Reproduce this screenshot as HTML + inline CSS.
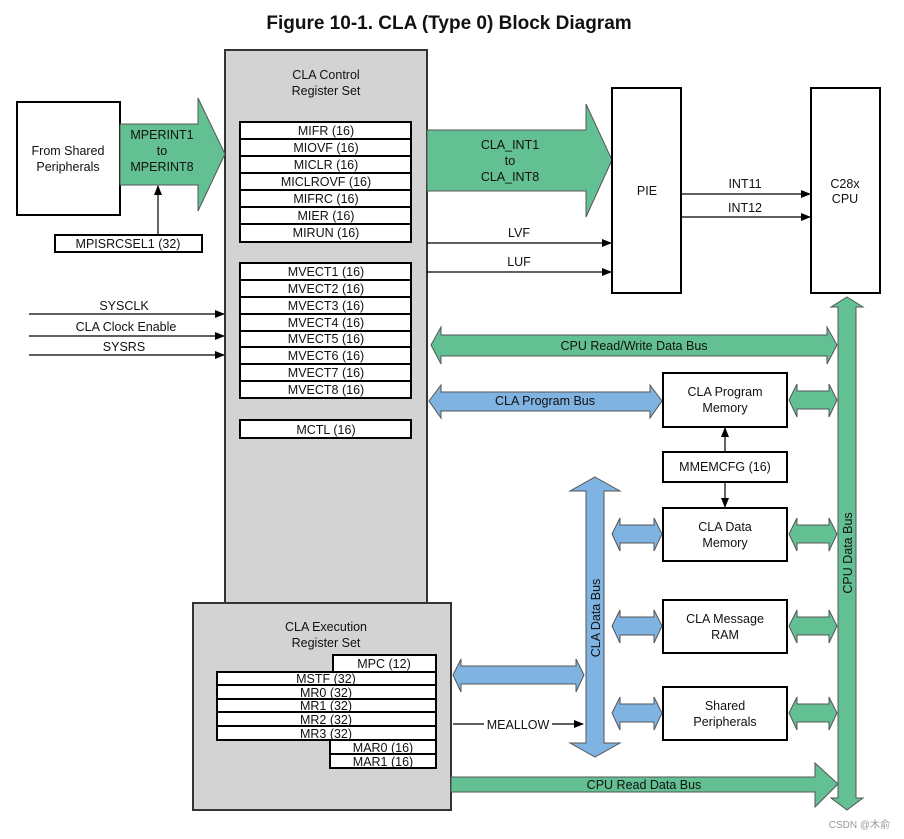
<!DOCTYPE html>
<html><head><meta charset="utf-8"><style>
body{margin:0;background:#fff}
svg{display:block;font-family:"Liberation Sans",Arial,sans-serif}
text{font-size:12.5px;fill:#111}
.r{fill:#fff;stroke:#000;stroke-width:2}
.g{fill:#63c093;stroke:#555;stroke-width:1}
.b{fill:#7fb3e1;stroke:#555;stroke-width:1}
.l{stroke:#000;stroke-width:1.2;fill:none}
</style></head><body>
<svg width="904" height="839" viewBox="0 0 904 839">
<defs><marker id="a" markerWidth="10" markerHeight="8" refX="9" refY="4" orient="auto" markerUnits="userSpaceOnUse"><path d="M0,0L10,4L0,8z" fill="#000"/></marker></defs>
<text x="449" y="29" text-anchor="middle" style="font-size:19px;font-weight:bold">Figure 10-1. CLA (Type 0) Block Diagram</text>

<rect x="225" y="50" width="202" height="560" fill="#d3d3d3" stroke="#333" stroke-width="2"/>
<text x="326" y="79" text-anchor="middle">CLA Control</text>
<text x="326" y="95" text-anchor="middle">Register Set</text>
<g class="r">
<rect x="240" y="122" width="171" height="120"/>
<rect x="240" y="263" width="171" height="135"/>
<rect x="240" y="420" width="171" height="18"/>
</g>
<g stroke="#000" stroke-width="2">
<line x1="240" y1="139" x2="411" y2="139"/><line x1="240" y1="156" x2="411" y2="156"/><line x1="240" y1="173" x2="411" y2="173"/><line x1="240" y1="190" x2="411" y2="190"/><line x1="240" y1="207" x2="411" y2="207"/><line x1="240" y1="224" x2="411" y2="224"/>
<line x1="240" y1="280" x2="411" y2="280"/><line x1="240" y1="297" x2="411" y2="297"/><line x1="240" y1="314" x2="411" y2="314"/><line x1="240" y1="331" x2="411" y2="331"/><line x1="240" y1="347" x2="411" y2="347"/><line x1="240" y1="364" x2="411" y2="364"/><line x1="240" y1="381" x2="411" y2="381"/>
</g>
<g text-anchor="middle">
<text x="326" y="135">MIFR (16)</text><text x="326" y="152">MIOVF (16)</text><text x="326" y="169">MICLR (16)</text><text x="326" y="186">MICLROVF (16)</text><text x="326" y="203">MIFRC (16)</text><text x="326" y="220">MIER (16)</text><text x="326" y="237">MIRUN (16)</text>
<text x="326" y="276">MVECT1 (16)</text><text x="326" y="293">MVECT2 (16)</text><text x="326" y="310">MVECT3 (16)</text><text x="326" y="327">MVECT4 (16)</text><text x="326" y="343">MVECT5 (16)</text><text x="326" y="360">MVECT6 (16)</text><text x="326" y="377">MVECT7 (16)</text><text x="326" y="394">MVECT8 (16)</text>
<text x="326" y="434">MCTL (16)</text>
</g>

<rect class="r" x="17" y="102" width="103" height="113"/>
<text x="68" y="155" text-anchor="middle">From Shared</text>
<text x="68" y="171" text-anchor="middle">Peripherals</text>
<polygon class="g" points="120,124 198,124 198,98 225,154 198,211 198,185 120,185"/>
<text x="162" y="139" text-anchor="middle">MPERINT1</text>
<text x="162" y="155" text-anchor="middle">to</text>
<text x="162" y="171" text-anchor="middle">MPERINT8</text>
<rect class="r" x="55" y="235" width="147" height="17"/>
<text x="128" y="248" text-anchor="middle">MPISRCSEL1 (32)</text>
<line class="l" x1="158" y1="235" x2="158" y2="186" marker-end="url(#a)"/>

<line class="l" x1="29" y1="314" x2="224" y2="314" marker-end="url(#a)"/>
<line class="l" x1="29" y1="336" x2="224" y2="336" marker-end="url(#a)"/>
<line class="l" x1="29" y1="355" x2="224" y2="355" marker-end="url(#a)"/>
<text x="124" y="310" text-anchor="middle">SYSCLK</text>
<text x="126" y="331" text-anchor="middle">CLA Clock Enable</text>
<text x="124" y="351" text-anchor="middle">SYSRS</text>

<polygon class="g" points="427,130 586,130 586,104 612,160 586,217 586,191 427,191"/>
<text x="510" y="149" text-anchor="middle">CLA_INT1</text>
<text x="510" y="165" text-anchor="middle">to</text>
<text x="510" y="181" text-anchor="middle">CLA_INT8</text>
<rect class="r" x="612" y="88" width="69" height="205"/>
<text x="647" y="195" text-anchor="middle">PIE</text>
<rect class="r" x="811" y="88" width="69" height="205"/>
<text x="845" y="188" text-anchor="middle">C28x</text>
<text x="845" y="203" text-anchor="middle">CPU</text>
<line class="l" x1="681" y1="194" x2="810" y2="194" marker-end="url(#a)"/>
<line class="l" x1="681" y1="217" x2="810" y2="217" marker-end="url(#a)"/>
<text x="745" y="188" text-anchor="middle">INT11</text>
<text x="745" y="212" text-anchor="middle">INT12</text>
<line class="l" x1="427" y1="243" x2="611" y2="243" marker-end="url(#a)"/>
<line class="l" x1="427" y1="272" x2="611" y2="272" marker-end="url(#a)"/>
<text x="519" y="237" text-anchor="middle">LVF</text>
<text x="519" y="266" text-anchor="middle">LUF</text>

<polygon class="g" points="847,297 863,307 856,307 856,798 863,798 847,810 831,798 838,798 838,307 831,307"/>
<text transform="translate(852,553) rotate(-90)" text-anchor="middle">CPU Data Bus</text>

<polygon class="g" points="431,345 441,327 441,335 827,335 827,327 837,345 827,364 827,356 441,356 441,364"/>
<text x="634" y="350" text-anchor="middle">CPU Read/Write Data Bus</text>
<polygon class="b" points="429,401 441,385 441,392 650,392 650,385 662,401 650,418 650,411 441,411 441,418"/>
<text x="545" y="405" text-anchor="middle">CLA Program Bus</text>

<g class="r">
<rect x="663" y="373" width="124" height="54"/>
<rect x="663" y="452" width="124" height="30"/>
<rect x="663" y="508" width="124" height="53"/>
<rect x="663" y="600" width="124" height="53"/>
<rect x="663" y="687" width="124" height="53"/>
</g>
<g text-anchor="middle">
<text x="725" y="396">CLA Program</text><text x="725" y="412">Memory</text>
<text x="725" y="471">MMEMCFG (16)</text>
<text x="725" y="531">CLA Data</text><text x="725" y="547">Memory</text>
<text x="725" y="623">CLA Message</text><text x="725" y="639">RAM</text>
<text x="725" y="710">Shared</text><text x="725" y="726">Peripherals</text>
</g>
<line class="l" x1="725" y1="452" x2="725" y2="428" marker-end="url(#a)"/>
<line class="l" x1="725" y1="482" x2="725" y2="507" marker-end="url(#a)"/>

<g class="g">
<polygon points="789,400 797,384 797,391 829,391 829,384 837,400 829,417 829,409 797,409 797,417"/>
<polygon points="789,534 797,518 797,525 829,525 829,518 837,534 829,551 829,543 797,543 797,551"/>
<polygon points="789,626 797,610 797,617 829,617 829,610 837,626 829,643 829,635 797,635 797,643"/>
<polygon points="789,713 797,697 797,704 829,704 829,697 837,713 829,730 829,722 797,722 797,730"/>
</g>
<polygon class="b" points="595,477 620,491 604,491 604,743 620,743 595,757 570,743 586,743 586,491 570,491"/>
<text transform="translate(600,618) rotate(-90)" text-anchor="middle">CLA Data Bus</text>
<g class="b">
<polygon points="612,534 620,518 620,525 654,525 654,518 662,534 654,551 654,543 620,543 620,551"/>
<polygon points="612,626 620,610 620,617 654,617 654,610 662,626 654,643 654,635 620,635 620,643"/>
<polygon points="612,713 620,697 620,704 654,704 654,697 662,713 654,730 654,722 620,722 620,730"/>
<polygon points="453,675 461,659 461,666 576,666 576,659 584,675 576,692 576,684 461,684 461,692"/>
</g>

<rect x="193" y="603" width="258" height="207" fill="#d3d3d3" stroke="#333" stroke-width="2"/>
<text x="326" y="631" text-anchor="middle">CLA Execution</text>
<text x="326" y="647" text-anchor="middle">Register Set</text>
<g class="r">
<rect x="333" y="655" width="103" height="17"/>
<rect x="217" y="672" width="219" height="68"/>
<rect x="330" y="740" width="106" height="28"/>
</g>
<g stroke="#000" stroke-width="2">
<line x1="217" y1="685" x2="436" y2="685"/><line x1="217" y1="699" x2="436" y2="699"/><line x1="217" y1="712" x2="436" y2="712"/><line x1="217" y1="726" x2="436" y2="726"/><line x1="330" y1="754" x2="436" y2="754"/>
</g>
<g text-anchor="middle" style="font-size:12px">
<text x="384" y="668">MPC (12)</text>
<text x="326" y="683">MSTF (32)</text><text x="326" y="697">MR0 (32)</text><text x="326" y="710">MR1 (32)</text><text x="326" y="724">MR2 (32)</text><text x="326" y="738">MR3 (32)</text>
<text x="383" y="752">MAR0 (16)</text><text x="383" y="766">MAR1 (16)</text>
</g>
<line class="l" x1="453" y1="724" x2="484" y2="724"/>
<line class="l" x1="552" y1="724" x2="583" y2="724" marker-end="url(#a)"/>
<text x="518" y="729" text-anchor="middle">MEALLOW</text>

<polygon class="g" points="451,777 815,777 815,763 838,784 815,807 815,792 451,792"/>
<text x="644" y="789" text-anchor="middle">CPU Read Data Bus</text>
<text x="890" y="828" text-anchor="end" style="font-size:10px;fill:#999;font-family:'Liberation Sans','Noto Sans CJK SC',sans-serif">CSDN @木俞</text>
</svg>
</body></html>
